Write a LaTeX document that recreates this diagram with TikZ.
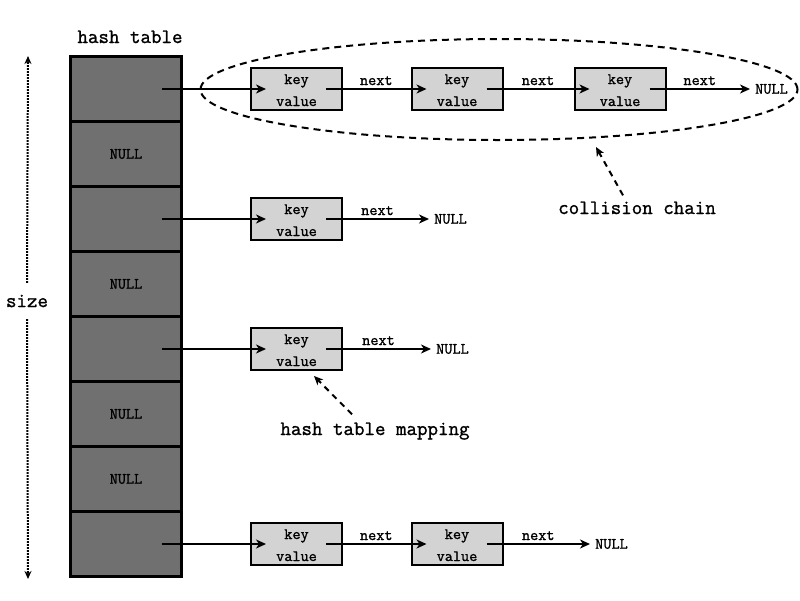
\documentclass[tikz,border=0pt]{standalone}
\usepackage{fontspec}
\newfontfamily\courfont[FakeBold=1.2]{Latin Modern Mono}
\usetikzlibrary{arrows.meta,shapes.geometric}
\definecolor{tabgray}{HTML}{707070}
\definecolor{boxgray}{HTML}{D3D3D3}
\begin{document}
\begin{tikzpicture}[x=1pt,y=-1pt,
  big/.style={font=\courfont\fontsize{20.4}{22}\selectfont},
  small/.style={font=\courfont\fontsize{15.8}{17}\selectfont},
  cell/.style={draw,line width=3pt,fill=tabgray,minimum width=111pt,minimum height=65pt,inner sep=0pt,outer sep=0pt,small},
  entry/.style={draw,line width=2pt,fill=boxgray,minimum width=91pt,minimum height=42pt,inner sep=0pt},
  lbl/.style={small,inner sep=0pt,anchor=base},
  nul/.style={small,inner xsep=5pt,inner ysep=0pt,anchor=west},
  arr/.style={line width=2pt,-{Stealth[length=10pt,width=9pt,inset=3pt]}},
  darr/.style={line width=2pt,dash pattern=on 6pt off 5pt,-{Stealth[length=9pt,width=8pt,inset=2.5pt]}},
  sarr/.style={line width=2pt,dash pattern=on 1.6pt off 1.4pt,-{Stealth[length=8pt,width=7pt]}},
  txt/.style={big,inner sep=0pt,anchor=base}]
\useasboundingbox[fill=white] (0,0) rectangle (800,600);
% hash table
\node[txt] (title) at (130,43) {hash table};
\foreach \i/\t in {1/,2/NULL,3/,4/NULL,5/,6/NULL,7/NULL,8/}{
  \node[cell] (c\i) at (126,{56.5+65*(\i-0.5)}) {\t};
}
% size arrow
\node[big,inner sep=0pt,minimum height=36pt] (size) at (27,301) {size};
\coordinate (stop) at (28,56);
\coordinate (sbot) at (28,579);
\draw[sarr] (size.north) -- (stop);
\draw[sarr] (size.south) -- (sbot);
% row 1
\node[entry] (b11) at (296.5,89) {};
\node[entry] (b12) at (457,89) {};
\node[entry] (b13) at (620,89) {};
\node[nul] (n1) at (750,89) {NULL};
% row 3
\node[entry] (b31) at (296.5,219) {};
\node[nul] (n3) at (429,219) {NULL};
% row 5
\node[entry] (b51) at (296.5,349) {};
\node[nul] (n5) at (431,349) {NULL};
% row 8
\node[entry] (b81) at (296.5,544) {};
\node[entry] (b82) at (457,544) {};
\node[nul] (n8) at (590,544) {NULL};
% key/value labels
\foreach \b in {b11,b12,b13,b31,b51,b81,b82}{
  \node[lbl] at ([yshift=5pt]\b.center) {key};
  \node[lbl] at ([yshift=-17pt]\b.center) {value};
}
% arrows from table
\foreach \c/\b in {c1/b11,c3/b31,c5/b51,c8/b81}{
  \draw[arr] ([xshift=36pt]\c.center) -- ([xshift=16pt]\b.west);
}
% next arrows
\foreach \a/\b in {b11/b12,b12/b13,b81/b82}{
  \draw[arr] ([xshift=-17pt]\a.east) -- node[lbl,yshift=4pt]{next} ([xshift=16pt]\b.west);
}
\foreach \a/\n in {b13/n1,b31/n3,b51/n5,b82/n8}{
  \draw[arr] ([xshift=-17pt]\a.east) -- node[lbl,yshift=4pt]{next} (\n.west);
}
% collision chain
\node[ellipse,draw,line width=2pt,dash pattern=on 7pt off 5pt,minimum width=597pt,minimum height=101pt,inner sep=0pt] (chain) at (499,89.5) {};
\node[txt] (cc) at (637,214) {collision chain};
\coordinate (cctip) at (596,147);
\draw[darr] ([xshift=-14pt,yshift=6pt]cc.north) -- (cctip);
% hash table mapping
\node[txt] (htm) at (375,435) {hash table mapping};
\draw[darr] ([xshift=-23pt,yshift=8pt]htm.north) -- ([xshift=17.5pt,yshift=-5pt]b51.south);
\end{tikzpicture}
\end{document}
